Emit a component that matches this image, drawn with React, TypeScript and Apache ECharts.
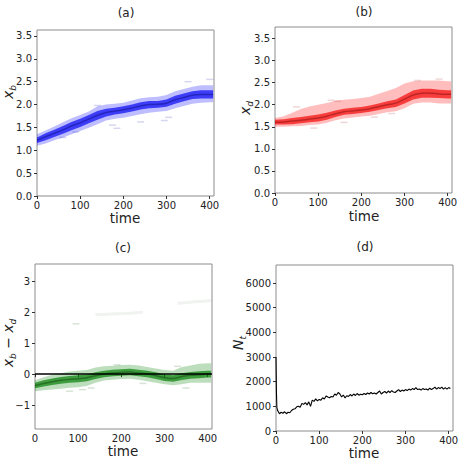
import React, { useEffect, useRef } from "react";
import * as echarts from "echarts";

// time grid for the density bands (panels a, b, c)
const times = [0, 20, 40, 60, 80, 100, 120, 140, 160, 180, 200, 220, 240, 260, 280, 300, 320, 340, 360, 380, 400, 408];

// (a) x_b cloud
const aLower = [1.1, 1.15, 1.22, 1.28, 1.35, 1.42, 1.49, 1.57, 1.65, 1.69, 1.71, 1.75, 1.79, 1.82, 1.84, 1.86, 1.92, 1.97, 2.02, 2.04, 2.05, 2.05];
const aInnerLow = [1.16, 1.22, 1.29, 1.36, 1.44, 1.51, 1.59, 1.67, 1.74, 1.78, 1.81, 1.85, 1.89, 1.92, 1.93, 1.95, 2.02, 2.07, 2.12, 2.13, 2.13, 2.13];
const aInnerHigh = [1.28, 1.37, 1.45, 1.53, 1.62, 1.69, 1.77, 1.86, 1.91, 1.93, 1.96, 2.0, 2.05, 2.08, 2.08, 2.11, 2.19, 2.24, 2.29, 2.31, 2.31, 2.31];
const aUpper = [1.35, 1.43, 1.52, 1.61, 1.7, 1.77, 1.85, 1.96, 2.0, 2.02, 2.04, 2.09, 2.14, 2.16, 2.17, 2.21, 2.29, 2.34, 2.39, 2.42, 2.42, 2.42];
// stray streaks around (a)
const aStrayT = [60, 90, 140, 175, 185, 240, 295, 305, 350, 400];
const aStrayV = [1.28, 1.4, 1.98, 1.55, 1.48, 1.62, 1.65, 1.72, 2.5, 2.55];

// (b) x_d cloud
const bLower = [1.5, 1.5, 1.51, 1.52, 1.54, 1.55, 1.59, 1.65, 1.69, 1.71, 1.73, 1.75, 1.79, 1.83, 1.85, 1.92, 2.02, 2.05, 2.05, 2.03, 2.03, 2.03];
const bInnerLow = [1.55, 1.55, 1.56, 1.58, 1.6, 1.62, 1.66, 1.72, 1.77, 1.79, 1.81, 1.84, 1.88, 1.92, 1.95, 2.03, 2.12, 2.16, 2.16, 2.15, 2.14, 2.14];
const bInnerHigh = [1.66, 1.67, 1.7, 1.72, 1.75, 1.78, 1.82, 1.87, 1.91, 1.93, 1.95, 1.98, 2.03, 2.08, 2.12, 2.22, 2.32, 2.36, 2.36, 2.34, 2.33, 2.33];
const bUpper = [1.7, 1.74, 1.82, 1.9, 1.96, 2.0, 2.04, 2.09, 2.11, 2.13, 2.15, 2.18, 2.25, 2.31, 2.38, 2.48, 2.53, 2.55, 2.55, 2.55, 2.53, 2.53];
// stray streaks around (b)
const bStrayT = [50, 90, 130, 145, 160, 230, 270, 330, 380];
const bStrayV = [1.95, 1.47, 2.1, 2.08, 1.6, 1.72, 1.8, 2.55, 2.58];

// (c) x_b - x_d cloud
const cLower = [-0.55, -0.52, -0.5, -0.47, -0.44, -0.42, -0.38, -0.28, -0.21, -0.18, -0.16, -0.15, -0.18, -0.23, -0.28, -0.33, -0.36, -0.33, -0.28, -0.28, -0.28, -0.28];
const cInnerLow = [-0.46, -0.4, -0.35, -0.31, -0.28, -0.26, -0.23, -0.16, -0.1, -0.07, -0.05, -0.04, -0.07, -0.1, -0.16, -0.22, -0.25, -0.19, -0.15, -0.13, -0.11, -0.11];
const cInnerHigh = [-0.28, -0.2, -0.14, -0.09, -0.06, -0.04, -0.01, 0.06, 0.11, 0.14, 0.16, 0.17, 0.14, 0.11, 0.06, -0.01, -0.04, 0.03, 0.07, 0.09, 0.11, 0.11];
const cUpper = [-0.2, -0.1, -0.02, 0.03, 0.08, 0.11, 0.13, 0.21, 0.25, 0.27, 0.29, 0.3, 0.28, 0.23, 0.18, 0.13, 0.11, 0.23, 0.28, 0.33, 0.35, 0.35];
// stray streaks around (c)
const cStrayT = [80, 110, 130, 190, 250, 330, 350, 95];
const cStrayV = [-0.55, -0.5, -0.45, 0.3, -0.3, 0.25, -0.45, 1.62];
// faint secondary clouds in (c)
const cFaint1Times = [140, 170, 200, 230, 250];
const cFaint1 = [1.92, 1.93, 1.95, 1.97, 2.0];
const cFaint2Times = [330, 360, 390, 408];
const cFaint2 = [2.28, 2.32, 2.35, 2.37];

// (d) N_t
const dTimes = [0, 1, 2, 4, 8, 12, 16, 20, 24, 28, 32, 36, 40, 44, 48, 52, 56, 60, 64, 68, 72, 76, 80, 84, 88, 92, 96, 100, 104, 108, 112, 116, 120, 124, 128, 132, 136, 140, 144, 148, 152, 156, 160, 164, 168, 172, 176, 180, 184, 188, 192, 196, 200, 204, 208, 212, 216, 220, 224, 228, 232, 236, 240, 244, 248, 252, 256, 260, 264, 268, 272, 276, 280, 284, 288, 292, 296, 300, 304, 308, 312, 316, 320, 324, 328, 332, 336, 340, 344, 348, 352, 356, 360, 364, 368, 372, 376, 380, 384, 388, 392, 396, 400, 404];
const dValues = [3000, 1600, 950, 820, 700, 760, 720, 780, 700, 760, 740, 830, 880, 900, 980, 1000, 960, 1120, 1080, 1150, 1060, 1180, 1000, 1250, 1200, 1300, 1220, 1280, 1250, 1350, 1300, 1420, 1380, 1350, 1400, 1380, 1500, 1450, 1560, 1500, 1380, 1460, 1340, 1430, 1400, 1480, 1420, 1500, 1440, 1520, 1450, 1490, 1470, 1520, 1480, 1540, 1500, 1560, 1510, 1540, 1500, 1560, 1620, 1500, 1560, 1600, 1540, 1620, 1560, 1640, 1580, 1560, 1620, 1680, 1600, 1660, 1620, 1680, 1640, 1700, 1660, 1720, 1680, 1760, 1680, 1700, 1660, 1720, 1680, 1700, 1660, 1740, 1680, 1720, 1780, 1700, 1760, 1720, 1780, 1700, 1760, 1700, 1760, 1720];

// tick labels
const xTicks = [0, 100, 200, 300, 400];
const abTicks = [0, 0.5, 1.0, 1.5, 2.0, 2.5, 3.0, 3.5];
const cTicks = [-1, 0, 1, 2, 3];
const dTicks = [0, 1000, 2000, 3000, 4000, 5000, 6000];

const FONT = "DejaVu Sans";

function bandSeries(gi: number, lower: number[], innerLow: number[], innerHigh: number[], upper: number[], outer: string, inner: string, core: string) {
  return {
    type: "custom",
    xAxisIndex: gi,
    yAxisIndex: gi,
    silent: true,
    clip: true,
    encode: { x: 0, y: 1 },
    data: [[times[0], lower[0]]],
    renderItem: (_params: any, api: any) => {
      const pts = (arr: number[]) => times.map((t, i) => api.coord([t, arr[i]]));
      const lo = pts(lower);
      const up = pts(upper);
      const il = pts(innerLow);
      const ih = pts(innerHigh);
      const mid = times.map((t, i) => api.coord([t, (innerLow[i] + innerHigh[i]) / 2]));
      return {
        type: "group",
        children: [
          { type: "polygon", shape: { points: up.concat(lo.slice().reverse()), smooth: 0 }, style: { fill: outer } },
          { type: "polygon", shape: { points: ih.concat(il.slice().reverse()), smooth: 0 }, style: { fill: inner } },
          { type: "polyline", shape: { points: mid, smooth: 0.3 }, style: { stroke: core, lineWidth: 1.5, opacity: 0.4, fill: "none" } },
        ],
      };
    },
  };
}

function strays(gi: number, ts: number[], vs: number[], color: string) {
  return {
    type: "scatter",
    xAxisIndex: gi,
    yAxisIndex: gi,
    silent: true,
    symbol: "rect",
    symbolSize: [7, 1.5],
    itemStyle: { color },
    data: ts.map((t, i) => [t, vs[i]]),
  };
}

function xAxis(gi: number) {
  return {
    type: "value",
    gridIndex: gi,
    min: 0,
    max: 410,
    axisLine: { show: false },
    axisTick: { show: true, length: 3, customValues: xTicks, lineStyle: { color: "#333" } },
    axisLabel: { customValues: xTicks, fontSize: 10, color: "#222", margin: 4, fontFamily: FONT },
    splitLine: { show: false },
  };
}

function yAxis(gi: number, min: number, max: number, ticks: number[], fmt: (v: number) => string) {
  return {
    type: "value",
    gridIndex: gi,
    min,
    max,
    axisLine: { show: false },
    axisTick: { show: true, length: 3, customValues: ticks, lineStyle: { color: "#333" } },
    axisLabel: { customValues: ticks, fontSize: 10, color: "#222", margin: 5, fontFamily: FONT, formatter: fmt },
    splitLine: { show: false },
  };
}

function grid(left: number, top: number, width: number, height: number) {
  return { left, top, width, height, show: true, borderColor: "#8c8c8c", borderWidth: 1, backgroundColor: "transparent" };
}

function txt(x: number, y: number, text: string, size: number) {
  return {
    type: "text",
    x,
    y,
    silent: true,
    style: { text, fontSize: size, fontFamily: FONT, fill: "#222", align: "center", verticalAlign: "middle" },
  };
}

function yName(x: number, y: number, text: string) {
  return {
    type: "text",
    x,
    y,
    rotation: Math.PI / 2,
    silent: true,
    style: {
      text,
      fontFamily: FONT,
      fill: "#222",
      align: "center",
      verticalAlign: "middle",
      rich: {
        v: { fontSize: 14, fontStyle: "italic", fontFamily: FONT, fill: "#222", verticalAlign: "top", lineHeight: 20 },
        s: { fontSize: 9, fontStyle: "italic", fontFamily: FONT, fill: "#222", verticalAlign: "top", lineHeight: 20, padding: [7, 0, 0, 0] },
        o: { fontSize: 14, fontFamily: FONT, fill: "#222", verticalAlign: "top", lineHeight: 20 },
      },
    },
  };
}

const fmt1 = (v: number) => v.toFixed(1);
const fmtInt = (v: number) => (v < 0 ? "\u2212" + Math.abs(v) : String(v));

export default function App() {
  const ref = useRef<HTMLDivElement>(null);
  useEffect(() => {
    if (!ref.current) return;
    const chart = echarts.init(ref.current, undefined, { renderer: "svg" });
    const option: any = {
      animation: false,
      backgroundColor: "#ffffff",
      grid: [grid(37, 30, 177, 166), grid(275, 27, 177, 166), grid(35, 264, 177, 165), grid(276, 265, 177, 166)],
      xAxis: [xAxis(0), xAxis(1), xAxis(2), xAxis(3)],
      yAxis: [
        yAxis(0, 0, 3.63, abTicks, fmt1),
        yAxis(1, 0, 3.76, abTicks, fmt1),
        yAxis(2, -1.77, 3.55, cTicks, fmtInt),
        yAxis(3, 0, 6730, dTicks, (v: number) => String(v)),
      ],
      series: [
        bandSeries(0, aLower, aInnerLow, aInnerHigh, aUpper, "rgba(0,0,255,0.26)", "rgba(0,0,245,0.68)", "#00006a"),
        strays(0, aStrayT, aStrayV, "rgba(0,0,160,0.2)"),
        bandSeries(1, bLower, bInnerLow, bInnerHigh, bUpper, "rgba(255,0,0,0.26)", "rgba(245,0,0,0.68)", "#6a0000"),
        strays(1, bStrayT, bStrayV, "rgba(160,0,0,0.2)"),
        bandSeries(2, cLower, cInnerLow, cInnerHigh, cUpper, "rgba(0,128,0,0.26)", "rgba(0,125,0,0.68)", "#003000"),
        strays(2, cStrayT, cStrayV, "rgba(0,90,0,0.2)"),
        {
          type: "line",
          xAxisIndex: 2,
          yAxisIndex: 2,
          symbol: "none",
          smooth: 0.3,
          silent: true,
          data: cFaint1Times.map((t, i) => [t, cFaint1[i]]),
          lineStyle: { width: 3, color: "rgba(60,100,60,0.08)" },
        },
        {
          type: "line",
          xAxisIndex: 2,
          yAxisIndex: 2,
          symbol: "none",
          smooth: 0.3,
          silent: true,
          data: cFaint2Times.map((t, i) => [t, cFaint2[i]]),
          lineStyle: { width: 3, color: "rgba(60,100,60,0.08)" },
          markLine: {
            silent: true,
            symbol: "none",
            label: { show: false },
            lineStyle: { color: "#000", width: 1.5, type: "solid" },
            data: [{ yAxis: 0 }],
          },
        },
        {
          type: "line",
          xAxisIndex: 3,
          yAxisIndex: 3,
          symbol: "none",
          silent: true,
          data: dTimes.map((t, i) => [t, dValues[i]]),
          lineStyle: { width: 1.1, color: "#000" },
        },
      ],
      graphic: [
        txt(126, 13, "(a)", 12),
        txt(364, 12, "(b)", 12),
        txt(123, 248, "(c)", 12),
        txt(365, 247, "(d)", 12),
        txt(125, 218, "time", 13.5),
        txt(364, 216, "time", 13.5),
        txt(123, 451, "time", 13.5),
        txt(364, 453, "time", 13.5),
        yName(11, 92, "{v|x}{s|b}"),
        yName(248, 108, "{v|x}{s|d}"),
        yName(11, 343, "{v|x}{s|b}{o| \u2212 }{v|x}{s|d}"),
        yName(241, 343, "{v|N}{s|t}"),
      ],
    };
    chart.setOption(option);
    return () => chart.dispose();
  }, []);
  return <div ref={ref} style={{ position: "absolute", left: 0, top: 0, width: 474, height: 474 }} />;
}
